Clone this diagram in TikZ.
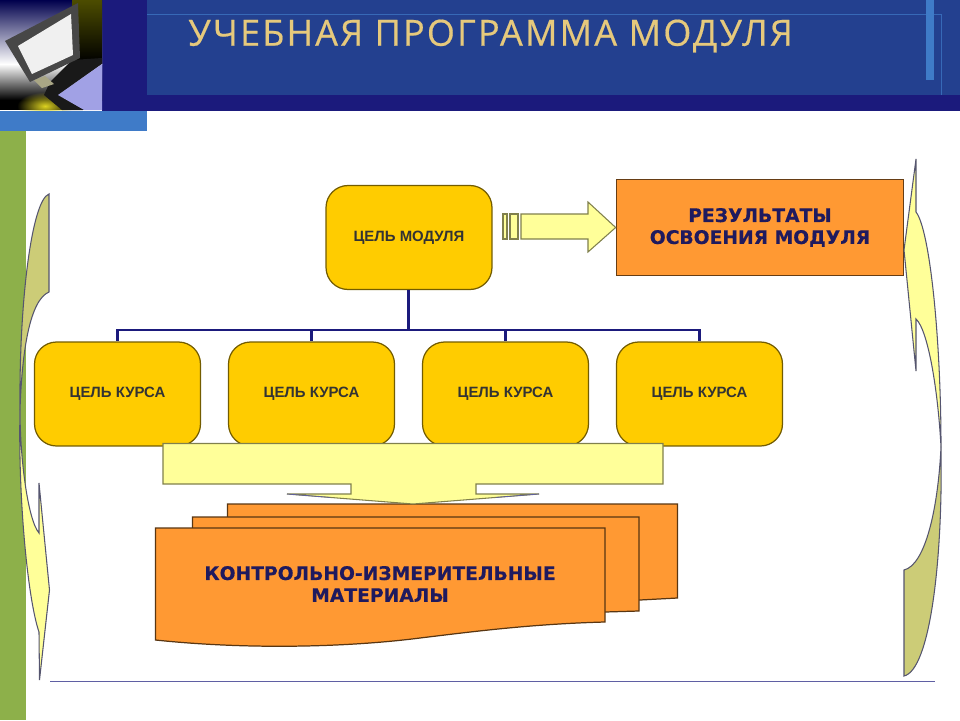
\documentclass[tikz,border=0pt]{standalone}
\usepackage{fontspec}
\usepackage{xcolor}
\setmainfont{Liberation Sans}
\newfontfamily\titlefont[LetterSpace=6,FakeBold=0.5]{Open Sans}
\newfontfamily\widefont[BoldFeatures={FakeBold=0.4}]{DejaVu Sans}
\usetikzlibrary{fadings}
\tikzfading[name=softglow,inner color=transparent!0,outer color=transparent!100]
\definecolor{panelblue}{HTML}{23408F}
\definecolor{deepblue}{HTML}{1B1A7C}
\definecolor{barblue}{HTML}{3F7BC8}
\definecolor{stripgreen}{HTML}{8DB04A}
\definecolor{goldbox}{HTML}{FFCC00}
\definecolor{orangebox}{HTML}{FF9933}
\definecolor{paleyellow}{HTML}{FFFF99}
\definecolor{olivefill}{HTML}{CCCC77}
\definecolor{inkblue}{HTML}{1F1A5E}
\definecolor{titlegold}{HTML}{E6C97C}
\definecolor{edgegray}{HTML}{55556F}
\tikzset{
  goalbox/.style={draw=black!55!goldbox,fill=goldbox,line width=0.7pt,rounded corners=0.44cm,minimum width=3.32cm,minimum height=2.08cm,inner sep=0pt,font=\bfseries\fontsize{8.5}{10}\selectfont,text=black!80},
  resultbox/.style={draw=black!60!orangebox,fill=orangebox,line width=0.7pt,minimum width=5.75cm,minimum height=1.92cm,inner sep=0pt,align=center,font=\widefont\bfseries\fontsize{10.65}{12.5}\selectfont,text=inkblue},
  sheet/.style={draw=black!65!orangebox,fill=orangebox,line width=0.7pt},
  pale/.style={draw=black!50!paleyellow,fill=paleyellow,line width=0.6pt},
  curvepale/.style={draw=edgegray,fill=paleyellow,line width=0.6pt},
  olive/.style={draw=edgegray,fill=olivefill,line width=0.6pt},
  treeline/.style={draw=deepblue,line width=1.3pt}
}
\begin{document}
\begin{tikzpicture}[x=0.02cm,y=-0.02cm]
  \useasboundingbox (0,0) rectangle (960,720);
  % header
  \fill[stripgreen] (0,131) rectangle (26,720);
  \fill[panelblue] (147,0) rectangle (960,95);
  \fill[deepblue] (102,0) rectangle (147,111);
  \fill[deepblue] (147,95) rectangle (960,111);
  \fill[barblue] (0,111) rectangle (147,131);
  \draw[barblue!70!panelblue,line width=0.5pt] (147,14) -- (941,14) -- (941,95);
  \fill[barblue] (926,0) rectangle (934,80);
  \node[anchor=west,inner sep=0pt,text=titlegold] (title) at (188,36) {\titlefont\fontsize{20.5}{24}\selectfont УЧЕБНАЯ ПРОГРАММА МОДУЛЯ};
  % photo
  \begin{scope}
    \clip (0,0) rectangle (102,110);
    \shade[top color=black!70!blue,middle color=violet!55!white,bottom color=white] (0,0) rectangle (102,64);
    \shade[top color=white,bottom color=black] (0,64) rectangle (102,100);
    \fill[black] (0,100) rectangle (102,110);
    \shade[top color=black!40!olive,middle color=white,bottom color=black] (72,0) rectangle (102,62);
    \fill[yellow!85!black,path fading=softglow] (45,106) ellipse (28 and 14);
    \fill[black!90] (44,95) -- (50,82) -- (72,60) -- (102,58) -- (102,64) -- (58,95) -- (83,110) -- (62,110) -- cycle;
    \fill[blue!30!white!90!black] (58,95) -- (102,64) -- (102,110) -- (84,110) -- cycle;
    \fill[yellow!35!black!60!white] (34,80) -- (45,76) -- (54,84) -- (42,88) -- cycle;
    \fill[black!72] (5,41) -- (78,3) -- (80,58) -- (30,82) -- cycle;
    \fill[white!94!black] (18,46) -- (71,14) -- (73,55) -- (32,74) -- cycle;
  \end{scope}
  % goals
  \node[goalbox] (modul) at (409,237.5) {ЦЕЛЬ МОДУЛЯ};
  \node[resultbox] (result) at (760,227.5) {РЕЗУЛЬТАТЫ\\ОСВОЕНИЯ МОДУЛЯ};
  \foreach \n/\x in {1/117.5,2/311.5,3/505.5,4/699.5}{
    \node[goalbox] (kurs\n) at (\x,394) {ЦЕЛЬ КУРСА};
  }
  \coordinate (bus) at (408.5,330);
  \draw[treeline] (modul.south -| bus) -- (bus);
  \foreach \n in {1,2,3,4}{
    \draw[treeline] (bus) -| (kurs\n.north);
  }
  % arrow to the results
  \draw[pale] (503,214) rectangle (507,239);
  \draw[pale] (510,214) rectangle (518,239);
  \draw[pale] (521,214) -- (588,214) -- (588,202) -- (result.west) -- (588,252) -- (588,239) -- (521,239) -- cycle;
  % sheets
  \draw[sheet] (227.5,504) -- (677.5,504) -- (677.5,598) -- (640,600) -- (227.5,600) -- cycle;
  \draw[sheet] (192.5,517) -- (639,517) -- (639,611) -- (605,612) -- (192.5,612) -- cycle;
  \draw[sheet] (155.5,528) -- (605,528) -- (605,622) .. controls (530,624) and (470,632) .. (420,638) .. controls (350,647) and (250,650) .. (155.5,640) -- cycle;
  \node[align=center,inner sep=0pt,text=inkblue,font=\widefont\bfseries\fontsize{10.65}{12.5}\selectfont] (kim) at (380,584) {КОНТРОЛЬНО-ИЗМЕРИТЕЛЬНЫЕ\\МАТЕРИАЛЫ};
  % wide arrow to the sheets
  \draw[pale] (163,443.5) -- (663,443.5) -- (663,484) -- (476,484) -- (476,494) -- (539,494) -- (413,504) -- (287,494) -- (351,494) -- (351,484) -- (163,484) -- cycle;
  \draw[deepblue!70,line width=0.4pt] (287,494) -- (330,497.4) (539,494) -- (496,497.4);
  % left curved arrow
  \draw[olive] (49,194) .. controls (32,200) and (19,300) .. (20,410) .. controls (22,350) and (30,300) .. (49,292) -- cycle;
  \draw[curvepale] (20,410) .. controls (20,460) and (28,520) .. (39,533) -- (39,483) -- (49.5,590) -- (39.5,680) -- (39,632) .. controls (28,600) and (18,500) .. (20,410) -- cycle;
  % right curved arrow
  \draw[curvepale] (916,159) -- (916,212) .. controls (930,230) and (941,340) .. (941,447) .. controls (938,390) and (928,330) .. (916,319) -- (916,371) -- (904,250) -- cycle;
  \draw[olive] (941,447) .. controls (943,560) and (930,670) .. (904,676) -- (904,570) .. controls (925,565) and (938,510) .. (941,447) -- cycle;
  \draw[deepblue!70,line width=0.5pt] (50,681) -- (935,681);
\end{tikzpicture}
\end{document}
